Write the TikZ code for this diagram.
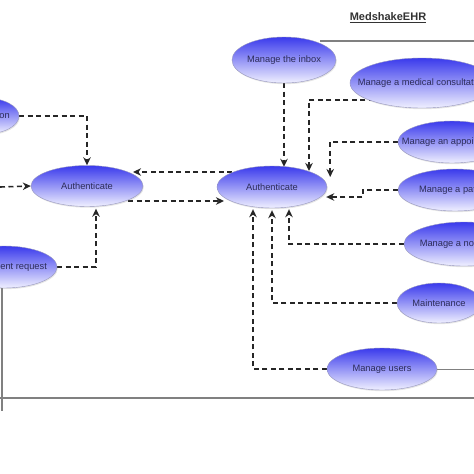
\documentclass[tikz,border=0pt]{standalone}
\usepackage{fontspec}
\setmainfont{Liberation Sans}
\usetikzlibrary{arrows.meta, calc, shapes.geometric, shadows}
\definecolor{ucblue}{RGB}{58,58,236}
\definecolor{ucpale}{RGB}{240,240,255}
\definecolor{ucborder}{RGB}{150,150,190}
\definecolor{uctext}{RGB}{44,44,88}
\definecolor{framegray}{RGB}{128,128,128}
\newcommand{\ucname}[1]{\makebox[0pt]{#1}}
\pgfdeclarelayer{links}
\pgfsetlayers{links,main}
\tikzset{
    usecase/.style 2 args={ellipse, draw=ucborder, top color=ucblue, bottom color=ucpale,
        minimum width=#1pt, minimum height=#2pt, inner sep=0pt, text=uctext,
        font=\fontsize{9.3}{11}\selectfont,
        drop shadow={opacity=0.2, shadow xshift=0.8pt, shadow yshift=-1.2pt}},
    dep/.style={draw=black!85, line width=1.6pt, dash pattern=on 5pt off 3.5pt,
        -{Stealth[length=8pt, width=7.5pt, inset=2.5pt]}},
    boundary/.style={draw=framegray, line width=1.2pt}
}

\begin{document}
\begin{tikzpicture}[x=1pt, y=-1pt]
    \useasboundingbox (0,0) rectangle (474,474);
    \clip (0,0) rectangle (474,474);

    \node[font=\bfseries\fontsize{11}{13}\selectfont, text=black!80] (title) at (388,18) {\underline{MedshakeEHR}};

    \node[usecase={68}{36}] (reg) at (-15,116) {\ucname{Registration}};
    \node[usecase={112}{41}] (authL) at (87,186) {\ucname{Authenticate}};
    \node[usecase={106}{42}] (apptreq) at (4,267) {\ucname{Appointment request}};
    \coordinate (ext) at (0,187);

    \node[usecase={110}{42}] (authR) at (272,187) {\ucname{Authenticate}};
    \node[usecase={104}{46}] (inbox) at (284,60) {\ucname{Manage the inbox}};
    \node[usecase={144}{50}] (medcons) at (422,83) {\ucname{Manage a medical consultation}};
    \node[usecase={108}{42}] (appt) at (452,142) {\ucname{Manage an appointment}};
    \node[usecase={114}{42}] (patient) at (455,190) {\ucname{Manage a patient}};
    \node[usecase={120}{44}] (notif) at (464,244) {\ucname{Manage a notification}};
    \node[usecase={84}{40}] (maint) at (439,303) {\ucname{Maintenance}};
    \node[usecase={110}{42}] (users) at (382,369) {\ucname{Manage users}};
    \coordinate (actor) at (474,369);

    \begin{pgfonlayer}{links}
        \fill[white] (0,0) rectangle (474,474);
        \draw[boundary] (320,41) -- (474,41);
        \draw[boundary] (0,398) -- (474,398);
        \draw[boundary] (2,287) -- (2,411);
        \draw[boundary, line width=0.8pt] (users.east) -- (actor);

        \draw[dep] (reg.east) -| (authL.north);
        \draw[dep] (ext) -- (authL.west);
        \draw[dep] (apptreq.east) -| ($(authL.south)+(9,2)$);
        \draw[dep] ($(authR.center)+(-40,-15)$) -- ($(authL.center)+(46,-14)$);
        \draw[dep] ($(authL.center)+(41,15)$) -- ($(authR.center)+(-48,14)$);

        \draw[dep] (inbox.south) -- ($(inbox.south |- authR.north)+(0,1)$);
        \draw[dep] ($(medcons.south west)+(3,-1)$) -| ($(authR.center)+(37,-16)$);
        \draw[dep] (appt.west) -| ($(authR.east)+(3,-10)$);
        \draw[dep] (patient.west) -- ++(-35,0) |- ($(authR.east)+(-1,10)$);
        \draw[dep] (notif.west) -| ($(authR.south)+(17,1)$);
        \draw[dep] (maint.west) -| ($(authR.south)+(0,2)$);
        \draw[dep] (users.west) -| ($(authR.south)+(-19,1)$);
    \end{pgfonlayer}
\end{tikzpicture}
\end{document}
